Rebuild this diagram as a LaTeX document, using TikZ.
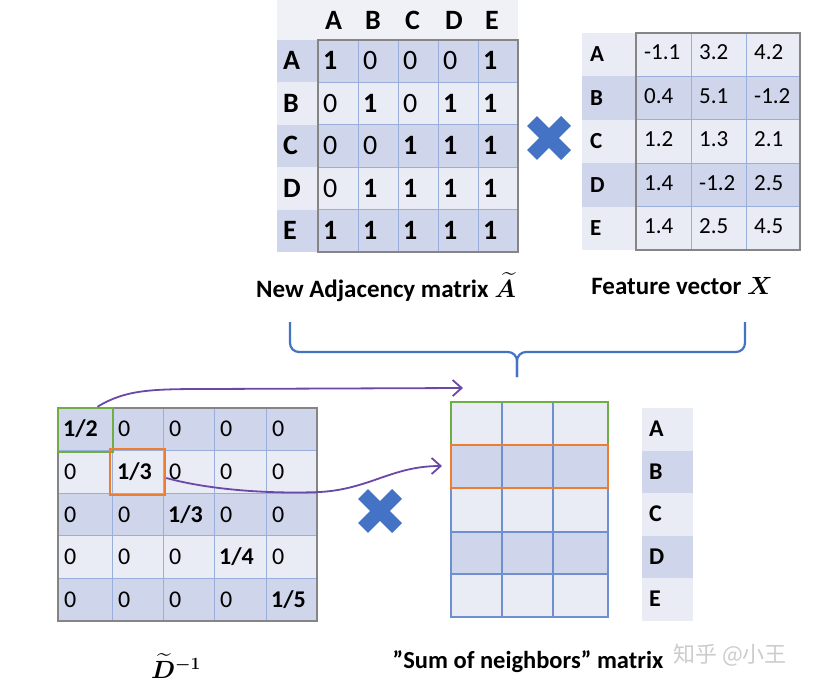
\documentclass[tikz,border=0pt]{standalone}
\usepackage{amsmath,bm}
\usepackage{fontspec}
\setmainfont{Carlito}
\newfontfamily\cjk{Noto Sans CJK SC}
\usetikzlibrary{arrows.meta,calc}
\definecolor{dk}{HTML}{CFD5EA}
\definecolor{lt}{HTML}{E9EBF5}
\definecolor{hd}{HTML}{EFF1F7}
\definecolor{gridb}{HTML}{9AAEDB}
\definecolor{gridc}{HTML}{6F8FD0}
\definecolor{bord}{HTML}{858585}
\definecolor{xblue}{HTML}{4472C4}
\definecolor{boxg}{HTML}{70AD47}
\definecolor{boxo}{HTML}{ED7D31}
\definecolor{purp}{HTML}{6A48A8}
\begin{document}
\begin{tikzpicture}[x=1pt,y=-1pt,
  cell/.style={anchor=west,inner sep=0pt,text depth=0pt},
  big/.style={cell,font=\fontsize{28}{30}\selectfont,text height=17.6pt},
  mid/.style={cell,font=\fontsize{23}{25}\selectfont,text height=14.5pt},
  midb/.style={cell,font=\fontsize{23}{25}\selectfont\bfseries,text height=14.5pt},
  sml/.style={cell,font=\fontsize{24}{26}\selectfont,text height=15pt},
  smlb/.style={cell,font=\fontsize{24}{26}\selectfont\bfseries,text height=15pt},
  lbl/.style={inner sep=0pt,font=\fontsize{25}{27}\selectfont\bfseries},
  mulx/.style={xblue,line width=14pt,line cap=butt},
  link/.style={purp,line width=1.8pt,-{Straight Barb[length=9pt,width=16pt,line width=1.8pt]}},
  brace/.style={xblue,line width=2.2pt,rounded corners=9pt}]
\useasboundingbox (0,0) rectangle (818,687);
\fill[white] (0,0) rectangle (818,687);

% ---------- top-left: adjacency matrix ----------
\fill[hd] (277,0) rectangle (518,40);
\foreach \j in {0,...,4} {
  \ifodd\j \def\cc{lt}\else\def\cc{dk}\fi
  \fill[\cc] (277,{40+42.4*\j}) rectangle (518,{40+42.4*(\j+1)});
}
\foreach \i in {1,...,4} \draw[gridb,line width=1pt] ({318+40*\i},40) -- ({318+40*\i},252);
\foreach \j in {1,...,4} \draw[gridb,line width=1pt] (318,{40+42.4*\j}) -- (518,{40+42.4*\j});
\draw[bord,line width=1.5pt] (318,40) rectangle (518,252);
\foreach \L [count=\i from 0] in {A,B,C,D,E} {
  \node[big,font=\fontsize{28}{30}\selectfont\bfseries] (tlh\L) at ({318+40*\i+7},21) {\L};
  \node[big,font=\fontsize{28}{30}\selectfont\bfseries] (tlr\L) at (283,{61.2+42.4*\i}) {\L};
}
\foreach \row [count=\j from 0] in {{1,0,0,0,1},{0,1,0,1,1},{0,0,1,1,1},{0,1,1,1,1},{1,1,1,1,1}} {
  \foreach \v [count=\i from 0] in \row {
    \node[big] (tl-\j-\i) at ({318+40*\i+5},{61.2+42.4*\j}) {\ifnum\v=1 \bfseries\fi\v};
  }
}
\node[lbl] (labA) at (386,287) {New Adjacency matrix $\bm{\widetilde{A}}$};

% ---------- top-right: feature matrix ----------
\foreach \j in {0,...,4} {
  \ifodd\j \def\cc{dk}\else\def\cc{lt}\fi
  \fill[\cc] (582,{33+43.4*\j}) rectangle (800,{33+43.4*(\j+1)});
}
\foreach \x in {691,746} \draw[gridb,line width=1pt] (\x,33) -- (\x,250);
\foreach \j in {1,...,4} \draw[gridb,line width=1pt] (636,{33+43.4*\j}) -- (800,{33+43.4*\j});
\draw[bord,line width=1.5pt] (636,33) rectangle (800,250);
\foreach \L [count=\i from 0] in {A,B,C,D,E}
  \node[midb] (trr\L) at (590,{54.7+43.4*\i}) {\L};
\foreach \row [count=\j from 0] in {{-1.1,3.2,4.2},{0.4,5.1,-1.2},{1.2,1.3,2.1},{1.4,-1.2,2.5},{1.4,2.5,4.5}} {
  \foreach \v [count=\i from 0] [evaluate=\i as \xl using {636+55*\i+8}] in \row {
    \node[mid] (tr-\j-\i) at (\xl,{52.7+43.4*\j}) {\v};
  }
}
\node[lbl] (labX) at (682,286) {Feature vector $\bm{X}$};

% multiply signs
\coordinate (m1) at (549,138);
\draw[mulx] ($(m1)+(-17,-17)$) -- ($(m1)+(17,17)$);
\draw[mulx] ($(m1)+(-17,17)$) -- ($(m1)+(17,-17)$);
\coordinate (m2) at (380,511);
\draw[mulx] ($(m2)+(-17,-17)$) -- ($(m2)+(17,17)$);
\draw[mulx] ($(m2)+(-17,17)$) -- ($(m2)+(17,-17)$);

% brace
\coordinate (bl) at (290,322);
\coordinate (br) at (745,322);
\coordinate (bt) at (517,377);
\draw[brace] (bl) -- (290,352) -- (517,352) -- (bt);
\draw[brace] (br) -- (745,352) -- (517,352) -- (bt);

% ---------- bottom-left: D^{-1} ----------
\foreach \j in {0,...,4} {
  \ifodd\j \def\cc{lt}\else\def\cc{dk}\fi
  \fill[\cc] (58,{408+42.6*\j}) rectangle (317,{408+42.6*(\j+1)});
}
\foreach \x in {112,163,214,266} \draw[gridb,line width=1pt] (\x,408) -- (\x,621);
\foreach \j in {1,...,4} \draw[gridb,line width=1pt] (58,{408+42.6*\j}) -- (317,{408+42.6*\j});
\draw[bord,line width=1.5pt] (58,408) rectangle (317,621);
\foreach \j/\d in {0/2,1/3,2/3,3/4,4/5} {
  \foreach \xl [count=\i from 0] in {58,112,163,214,266} {
    \ifnum\i=\j
      \node[smlb] (bl-\j-\i) at (\xl+5,{429.3+42.6*\j}) {1/\d};
    \else
      \node[sml] (bl-\j-\i) at (\xl+6,{429.3+42.6*\j}) {0};
    \fi
  }
}
\node[inner sep=0pt] (gb) at (85.5,430) [draw=boxg,line width=2.5pt,minimum width=55pt,minimum height=44pt] {};
\node[inner sep=0pt] (ob) at (137.5,472) [draw=boxo,line width=2.5pt,minimum width=55pt,minimum height=46pt] {};
\node[inner sep=0pt,font=\fontsize{26}{28}\selectfont] (labD) at (176,666) {$\bm{\widetilde{D}^{-1}}$};

% ---------- bottom-right: sum of neighbours ----------
\fill[lt] (451,402) rectangle (608,445);
\fill[dk] (451,445) rectangle (608,488);
\fill[lt] (451,488) rectangle (608,532);
\fill[dk] (451,532) rectangle (608,574);
\fill[lt] (451,574) rectangle (608,617);
\foreach \x in {502,553} \draw[gridc,line width=1.2pt] (\x,402) -- (\x,617);
\foreach \y in {445,488,532,574} \draw[gridc,line width=1.2pt] (451,\y) -- (608,\y);
\draw[gridc,line width=1.2pt] (451,402) rectangle (608,617);
\node[inner sep=0pt] (gr) at (529.5,423.5) [draw=boxg,line width=2.8pt,minimum width=157pt,minimum height=43pt] {};
\node[inner sep=0pt] (or) at (529.5,466.5) [draw=boxo,line width=2.8pt,minimum width=157pt,minimum height=43pt] {};
\foreach \L [count=\i from 0] in {A,B,C,D,E} {
  \ifodd\i \def\cc{dk}\else\def\cc{lt}\fi
  \fill[\cc] (642,{408+42.6*\i}) rectangle (693,{408+42.6*(\i+1)});
  \node[midb,font=\fontsize{24}{26}\selectfont\bfseries] (brr\L) at (649,{429.3+42.6*\i}) {\L};
}
\node[lbl,font=\fontsize{24.5}{26}\selectfont\bfseries] (labS) at (528,662) {”Sum of neighbors” matrix};
\node[inner sep=0pt,font=\fontsize{22}{24}\selectfont\cjk,text=black!20] (wm) at (730,655) {知乎 @小王};

% ---------- links ----------
\coordinate (t1) at (463,388);
\coordinate (t2) at (442,466);
\draw[link] ([xshift=12pt]gb.north) .. controls (125,390) and (150,389) .. (205,389) -- (t1);
\draw[link] ([yshift=-6pt]ob.east) .. controls (210,490) and (270,494) .. (320,492) .. controls (370,489) and (392,466) .. (t2);
\end{tikzpicture}
\end{document}
